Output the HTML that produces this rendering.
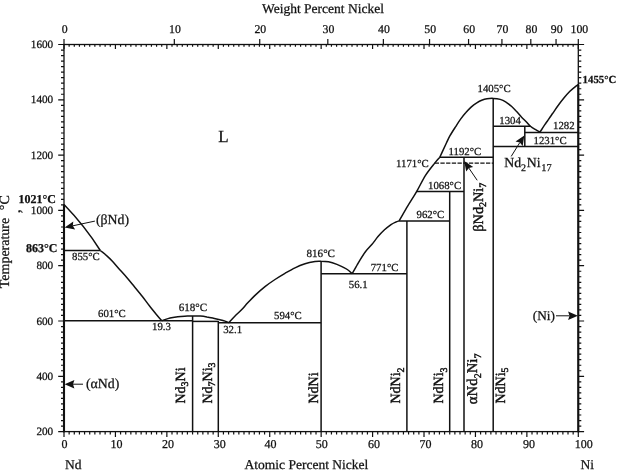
<!DOCTYPE html>
<html><head><meta charset="utf-8"><title>Nd-Ni phase diagram</title>
<style>html,body{margin:0;padding:0;background:#fff}svg{display:block}text{font-family:"Liberation Serif",serif;fill:#111;text-rendering:geometricPrecision;stroke:#111;stroke-width:0.25px}</style>
</head><body>
<svg width="617" height="473" viewBox="0 0 617 473">
<rect width="617" height="473" fill="#fff"/>
<g stroke="#111" fill="none" stroke-width="1.3" stroke-linecap="butt">
<rect x="64.0" y="44.5" width="514.30" height="387.10"/>
<path d="M64.0 204.6V432.2M578.3 84.6V432.2" stroke-width="2.1"/>
</g>
<path d="M64.00 431.6v5.5M64.00 44.5v4.6M69.14 431.6v2.9M69.14 44.5v2.3M74.29 431.6v2.9M74.29 44.5v2.3M79.43 431.6v2.9M79.43 44.5v2.3M84.57 431.6v2.9M84.57 44.5v2.3M89.72 431.6v2.9M89.72 44.5v2.3M94.86 431.6v2.9M94.86 44.5v2.3M100.00 431.6v2.9M100.00 44.5v2.3M105.14 431.6v2.9M105.14 44.5v2.3M110.29 431.6v2.9M110.29 44.5v2.3M115.43 431.6v5.5M115.43 44.5v4.6M120.57 431.6v2.9M120.57 44.5v2.3M125.72 431.6v2.9M125.72 44.5v2.3M130.86 431.6v2.9M130.86 44.5v2.3M136.00 431.6v2.9M136.00 44.5v2.3M141.14 431.6v2.9M141.14 44.5v2.3M146.29 431.6v2.9M146.29 44.5v2.3M151.43 431.6v2.9M151.43 44.5v2.3M156.57 431.6v2.9M156.57 44.5v2.3M161.72 431.6v2.9M161.72 44.5v2.3M166.86 431.6v5.5M166.86 44.5v4.6M172.00 431.6v2.9M172.00 44.5v2.3M177.15 431.6v2.9M177.15 44.5v2.3M182.29 431.6v2.9M182.29 44.5v2.3M187.43 431.6v2.9M187.43 44.5v2.3M192.57 431.6v2.9M192.57 44.5v2.3M197.72 431.6v2.9M197.72 44.5v2.3M202.86 431.6v2.9M202.86 44.5v2.3M208.00 431.6v2.9M208.00 44.5v2.3M213.15 431.6v2.9M213.15 44.5v2.3M218.29 431.6v5.5M218.29 44.5v4.6M223.43 431.6v2.9M223.43 44.5v2.3M228.58 431.6v2.9M228.58 44.5v2.3M233.72 431.6v2.9M233.72 44.5v2.3M238.86 431.6v2.9M238.86 44.5v2.3M244.00 431.6v2.9M244.00 44.5v2.3M249.15 431.6v2.9M249.15 44.5v2.3M254.29 431.6v2.9M254.29 44.5v2.3M259.43 431.6v2.9M259.43 44.5v2.3M264.58 431.6v2.9M264.58 44.5v2.3M269.72 431.6v5.5M269.72 44.5v4.6M274.86 431.6v2.9M274.86 44.5v2.3M280.01 431.6v2.9M280.01 44.5v2.3M285.15 431.6v2.9M285.15 44.5v2.3M290.29 431.6v2.9M290.29 44.5v2.3M295.43 431.6v2.9M295.43 44.5v2.3M300.58 431.6v2.9M300.58 44.5v2.3M305.72 431.6v2.9M305.72 44.5v2.3M310.86 431.6v2.9M310.86 44.5v2.3M316.01 431.6v2.9M316.01 44.5v2.3M321.15 431.6v5.5M321.15 44.5v4.6M326.29 431.6v2.9M326.29 44.5v2.3M331.44 431.6v2.9M331.44 44.5v2.3M336.58 431.6v2.9M336.58 44.5v2.3M341.72 431.6v2.9M341.72 44.5v2.3M346.86 431.6v2.9M346.86 44.5v2.3M352.01 431.6v2.9M352.01 44.5v2.3M357.15 431.6v2.9M357.15 44.5v2.3M362.29 431.6v2.9M362.29 44.5v2.3M367.44 431.6v2.9M367.44 44.5v2.3M372.58 431.6v5.5M372.58 44.5v4.6M377.72 431.6v2.9M377.72 44.5v2.3M382.87 431.6v2.9M382.87 44.5v2.3M388.01 431.6v2.9M388.01 44.5v2.3M393.15 431.6v2.9M393.15 44.5v2.3M398.30 431.6v2.9M398.30 44.5v2.3M403.44 431.6v2.9M403.44 44.5v2.3M408.58 431.6v2.9M408.58 44.5v2.3M413.72 431.6v2.9M413.72 44.5v2.3M418.87 431.6v2.9M418.87 44.5v2.3M424.01 431.6v5.5M424.01 44.5v4.6M429.15 431.6v2.9M429.15 44.5v2.3M434.30 431.6v2.9M434.30 44.5v2.3M439.44 431.6v2.9M439.44 44.5v2.3M444.58 431.6v2.9M444.58 44.5v2.3M449.73 431.6v2.9M449.73 44.5v2.3M454.87 431.6v2.9M454.87 44.5v2.3M460.01 431.6v2.9M460.01 44.5v2.3M465.15 431.6v2.9M465.15 44.5v2.3M470.30 431.6v2.9M470.30 44.5v2.3M475.44 431.6v5.5M475.44 44.5v4.6M480.58 431.6v2.9M480.58 44.5v2.3M485.73 431.6v2.9M485.73 44.5v2.3M490.87 431.6v2.9M490.87 44.5v2.3M496.01 431.6v2.9M496.01 44.5v2.3M501.15 431.6v2.9M501.15 44.5v2.3M506.30 431.6v2.9M506.30 44.5v2.3M511.44 431.6v2.9M511.44 44.5v2.3M516.58 431.6v2.9M516.58 44.5v2.3M521.73 431.6v2.9M521.73 44.5v2.3M526.87 431.6v5.5M526.87 44.5v4.6M532.01 431.6v2.9M532.01 44.5v2.3M537.16 431.6v2.9M537.16 44.5v2.3M542.30 431.6v2.9M542.30 44.5v2.3M547.44 431.6v2.9M547.44 44.5v2.3M552.58 431.6v2.9M552.58 44.5v2.3M557.73 431.6v2.9M557.73 44.5v2.3M562.87 431.6v2.9M562.87 44.5v2.3M568.01 431.6v2.9M568.01 44.5v2.3M573.16 431.6v2.9M573.16 44.5v2.3M578.30 431.6v5.5M578.30 44.5v4.6M64.00 44.5v-5.5M174.32 44.5v-5.5M259.73 44.5v-5.5M327.82 44.5v-5.5M383.37 44.5v-5.5M429.56 44.5v-5.5M468.56 44.5v-5.5M501.93 44.5v-5.5M530.81 44.5v-5.5M556.05 44.5v-5.5M578.30 44.5v-5.5M64.0 431.60h-5.8M578.3 431.60h5.8M64.0 426.07h-3M578.3 426.07h3M64.0 420.54h-3M578.3 420.54h3M64.0 415.01h-3M578.3 415.01h3M64.0 409.48h-3M578.3 409.48h3M64.0 403.95h-3M578.3 403.95h3M64.0 398.42h-3M578.3 398.42h3M64.0 392.89h-3M578.3 392.89h3M64.0 387.36h-3M578.3 387.36h3M64.0 381.83h-3M578.3 381.83h3M64.0 376.30h-5.8M578.3 376.30h5.8M64.0 370.77h-3M578.3 370.77h3M64.0 365.24h-3M578.3 365.24h3M64.0 359.71h-3M578.3 359.71h3M64.0 354.18h-3M578.3 354.18h3M64.0 348.65h-3M578.3 348.65h3M64.0 343.12h-3M578.3 343.12h3M64.0 337.59h-3M578.3 337.59h3M64.0 332.06h-3M578.3 332.06h3M64.0 326.53h-3M578.3 326.53h3M64.0 321.00h-5.8M578.3 321.00h5.8M64.0 315.47h-3M578.3 315.47h3M64.0 309.94h-3M578.3 309.94h3M64.0 304.41h-3M578.3 304.41h3M64.0 298.88h-3M578.3 298.88h3M64.0 293.35h-3M578.3 293.35h3M64.0 287.82h-3M578.3 287.82h3M64.0 282.29h-3M578.3 282.29h3M64.0 276.76h-3M578.3 276.76h3M64.0 271.23h-3M578.3 271.23h3M64.0 265.70h-5.8M578.3 265.70h5.8M64.0 260.17h-3M578.3 260.17h3M64.0 254.64h-3M578.3 254.64h3M64.0 249.11h-3M578.3 249.11h3M64.0 243.58h-3M578.3 243.58h3M64.0 238.05h-3M578.3 238.05h3M64.0 232.52h-3M578.3 232.52h3M64.0 226.99h-3M578.3 226.99h3M64.0 221.46h-3M578.3 221.46h3M64.0 215.93h-3M578.3 215.93h3M64.0 210.40h-5.8M578.3 210.40h5.8M64.0 204.87h-3M578.3 204.87h3M64.0 199.34h-3M578.3 199.34h3M64.0 193.81h-3M578.3 193.81h3M64.0 188.28h-3M578.3 188.28h3M64.0 182.75h-3M578.3 182.75h3M64.0 177.22h-3M578.3 177.22h3M64.0 171.69h-3M578.3 171.69h3M64.0 166.16h-3M578.3 166.16h3M64.0 160.63h-3M578.3 160.63h3M64.0 155.10h-5.8M578.3 155.10h5.8M64.0 149.57h-3M578.3 149.57h3M64.0 144.04h-3M578.3 144.04h3M64.0 138.51h-3M578.3 138.51h3M64.0 132.98h-3M578.3 132.98h3M64.0 127.45h-3M578.3 127.45h3M64.0 121.92h-3M578.3 121.92h3M64.0 116.39h-3M578.3 116.39h3M64.0 110.86h-3M578.3 110.86h3M64.0 105.33h-3M578.3 105.33h3M64.0 99.80h-5.8M578.3 99.80h5.8M64.0 94.27h-3M578.3 94.27h3M64.0 88.74h-3M578.3 88.74h3M64.0 83.21h-3M578.3 83.21h3M64.0 77.68h-3M578.3 77.68h3M64.0 72.15h-3M578.3 72.15h3M64.0 66.62h-3M578.3 66.62h3M64.0 61.09h-3M578.3 61.09h3M64.0 55.56h-3M578.3 55.56h3M64.0 50.03h-3M578.3 50.03h3M64.0 44.50h-5.8M578.3 44.50h5.8" stroke="#111" stroke-width="1.2" fill="none"/>
<g font-size="11.2">
<text x="64.6" y="32.9" text-anchor="middle" font-size="11.8">0</text>
<text x="174.9" y="32.9" text-anchor="middle" font-size="11.8">10</text>
<text x="260.3" y="32.9" text-anchor="middle" font-size="11.8">20</text>
<text x="328.4" y="32.9" text-anchor="middle" font-size="11.8">30</text>
<text x="384.0" y="32.9" text-anchor="middle" font-size="11.8">40</text>
<text x="430.2" y="32.9" text-anchor="middle" font-size="11.8">50</text>
<text x="469.2" y="32.9" text-anchor="middle" font-size="11.8">60</text>
<text x="502.5" y="32.9" text-anchor="middle" font-size="11.8">70</text>
<text x="531.4" y="32.9" text-anchor="middle" font-size="11.8">80</text>
<text x="556.7" y="32.9" text-anchor="middle" font-size="11.8">90</text>
<text x="579.4" y="32.9" text-anchor="middle" font-size="11.8">100</text>
<text x="64.6" y="448" text-anchor="middle" font-size="12">0</text>
<text x="116.4" y="448" text-anchor="middle" font-size="12">10</text>
<text x="168.1" y="448" text-anchor="middle" font-size="12">20</text>
<text x="219.8" y="448" text-anchor="middle" font-size="12">30</text>
<text x="270.6" y="448" text-anchor="middle" font-size="12">40</text>
<text x="321.8" y="448" text-anchor="middle" font-size="12">50</text>
<text x="374.1" y="448" text-anchor="middle" font-size="12">60</text>
<text x="425.5" y="448" text-anchor="middle" font-size="12">70</text>
<text x="476.9" y="448" text-anchor="middle" font-size="12">80</text>
<text x="528.9" y="448" text-anchor="middle" font-size="12">90</text>
<text x="583.7" y="448" text-anchor="middle" font-size="12">100</text>
<text x="53.2" y="435.1" text-anchor="end">200</text>
<text x="53.2" y="379.8" text-anchor="end">400</text>
<text x="53.2" y="324.5" text-anchor="end">600</text>
<text x="53.2" y="269.2" text-anchor="end">800</text>
<text x="53.2" y="213.9" text-anchor="end">1000</text>
<text x="53.2" y="158.6" text-anchor="end">1200</text>
<text x="53.2" y="103.3" text-anchor="end">1400</text>
<text x="53.2" y="48.0" text-anchor="end">1600</text>
</g>
<g font-size="13.5">
<text x="323" y="12.5" text-anchor="middle">Weight Percent Nickel</text>
<text x="244.6" y="468.8">Atomic Percent Nickel</text>
<text x="65" y="468.8">Nd</text>
<text x="580.4" y="468.8">Ni</text>
<text transform="translate(9.3,288.3) rotate(-90)" font-size="14">Temperature</text>
<text transform="translate(9.3,210.2) rotate(-90)" font-size="14">°C</text>
<text transform="translate(20.3,213.3) rotate(-90)" font-size="16">,</text>
</g>
<g stroke="#111" fill="none" stroke-width="1.5" stroke-linejoin="round">
<path d="M64.0 204.6 Q84.4 225.6 100.3 250.5"/>
<path d="M100.3 250.5C102.4 252.2 104.5 253.7 106.5 255.5C108.5 257.3 110.2 258.8 112.4 261.2C114.6 263.6 117.3 266.9 119.8 269.7C122.3 272.5 124.7 275.1 127.2 278.0C129.7 280.9 132.1 283.9 134.6 286.9C137.1 289.9 139.5 292.9 142.0 296.0C144.5 299.1 146.9 302.7 149.4 305.8C151.9 308.9 154.7 312.4 156.8 314.9C158.9 317.4 160.1 318.8 161.8 320.7"/>
<path d="M161.8 320.7C163.9 320.0 165.9 319.2 168.0 318.6C170.1 318.0 172.3 317.7 174.5 317.3C176.7 316.9 178.8 316.6 180.9 316.4C183.1 316.2 185.5 316.0 187.4 315.9C189.3 315.8 190.4 316.0 192.6 316.0C194.7 316.1 198.0 316.0 200.4 316.1C202.8 316.2 204.7 316.5 206.9 316.9C209.1 317.2 211.2 317.7 213.4 318.2C215.6 318.7 218.0 319.3 219.9 319.8C221.8 320.3 223.5 320.6 225.0 321.1C226.5 321.6 227.5 322.1 228.8 322.7"/>
<path d="M228.8 322.7C230.8 320.5 232.7 318.3 234.8 316.2C236.9 314.1 239.1 312.3 241.3 310.0C243.5 307.7 245.7 305.0 248.0 302.6C250.3 300.2 252.2 298.1 255.0 295.4C257.8 292.7 261.7 289.2 265.0 286.6C268.3 284.0 271.7 281.7 275.0 279.5C278.3 277.3 281.7 275.2 285.0 273.3C288.3 271.4 291.7 269.4 295.0 267.8C298.3 266.2 301.7 264.8 305.0 263.7C308.3 262.6 312.3 261.9 315.0 261.5C317.7 261.1 318.9 261.2 321.1 261.3C323.4 261.3 325.9 261.3 328.5 261.8C331.1 262.3 334.1 263.3 336.9 264.4C339.7 265.5 343.3 267.2 345.4 268.4C347.5 269.5 348.5 270.4 349.6 271.3C350.7 272.2 351.3 272.9 352.2 273.7"/>
<path d="M352.2 273.7C353.8 270.8 355.8 267.3 357.1 265.0C358.4 262.7 358.7 262.1 360.1 259.9C361.5 257.6 363.7 254.1 365.6 251.5C367.6 248.9 369.7 247.1 371.8 244.6C373.9 242.1 375.9 239.1 378.0 236.6C380.1 234.1 382.3 231.8 384.5 229.8C386.7 227.8 389.2 225.9 391.0 224.6C392.8 223.3 394.1 222.8 395.5 222.2C396.9 221.6 397.9 221.3 399.1 220.9"/>
<path d="M399.1 220.9C402.0 215.9 404.9 210.8 407.8 205.9C410.7 201.0 413.7 196.7 416.6 191.6C419.6 186.5 422.5 180.0 425.5 175.3C428.5 170.6 432.3 166.1 434.7 163.1C437.1 160.1 438.1 159.2 439.8 157.3"/>
<path d="M439.8 157.3C442.0 152.5 444.7 146.6 446.4 143.0C448.1 139.4 448.5 138.3 450.0 135.7C451.5 133.1 453.5 130.0 455.3 127.2C457.1 124.4 458.8 121.5 460.6 119.1C462.4 116.6 464.1 114.5 465.9 112.5C467.6 110.5 469.4 108.7 471.1 107.1C472.9 105.5 474.6 104.2 476.4 103.1C478.2 102.0 479.9 101.0 481.7 100.3C483.5 99.6 485.1 99.1 487.0 98.8C488.9 98.5 491.0 98.3 493.2 98.4C495.4 98.5 498.1 98.8 500.2 99.4C502.3 100.0 503.8 100.7 505.6 101.8C507.4 102.9 509.1 104.3 510.9 105.8C512.6 107.3 514.4 109.2 516.1 111.0C517.9 112.8 519.6 115.0 521.4 116.9C523.2 118.8 525.2 120.6 526.7 122.2C528.2 123.8 529.0 125.1 530.4 126.3C531.8 127.5 533.6 128.5 535.2 129.4C536.8 130.3 537.4 130.9 540.1 132.0"/>
<path d="M540.1 132.0C541.7 129.5 543.6 126.4 545.0 124.4C546.4 122.4 547.0 121.6 548.2 119.8C549.4 118.0 550.7 116.2 552.4 113.8C554.1 111.4 556.3 108.0 558.3 105.3C560.2 102.6 562.2 100.1 564.1 97.8C566.0 95.5 568.0 93.2 569.9 91.3C571.8 89.4 574.3 87.4 575.7 86.3C577.1 85.2 577.4 85.2 578.3 84.6"/>
<path d="M64.0 250.5H100.3" />
<path d="M64.0 320.7H192.6" />
<path d="M192.6 321.4H218.3"/>
<path d="M218.3 322.7H321.1" />
<path d="M321.1 273.7H406.9" />
<path d="M399.1 220.9H449.7" />
<path d="M416.6 191.6H464.0" />
<path d="M434.7 163.1H493.2" stroke-dasharray="4.3 1.4" stroke-width="1.25"/>
<path d="M439.8 157.3H493.2" />
<path d="M493.2 126.3H530.4" />
<path d="M524.8 132.4H578.3" />
<path d="M493.2 146.5H578.3" />
<path d="M192.6 316.0V431.6"/>
<path d="M218.3 321.0V431.6"/>
<path d="M321.1 261.3V431.6"/>
<path d="M406.9 220.9V431.6"/>
<path d="M449.7 191.6V431.6"/>
<path d="M464.0 157.3V431.6"/>
<path d="M493.2 98.4V431.6"/>
<path d="M524.8 126.3V146.5"/>
</g>
<g font-size="10.8">
<text x="477.5" y="92.3" text-anchor="start" >1405°C</text>
<text x="499.3" y="124" text-anchor="start" >1304</text>
<text x="553" y="128.6" text-anchor="start" >1282</text>
<text x="533.5" y="144" text-anchor="start" >1231°C</text>
<text x="448.5" y="154.5" text-anchor="start" >1192°C</text>
<text x="396" y="167" text-anchor="start" >1171°C</text>
<text x="428" y="189" text-anchor="start" >1068°C</text>
<text x="416.5" y="218" text-anchor="start" >962°C</text>
<text x="306.5" y="257" text-anchor="start" font-size="11.1">816°C</text>
<text x="370.7" y="270.5" text-anchor="start" >771°C</text>
<text x="348.8" y="287.5" text-anchor="start" >56.1</text>
<text x="274" y="319" text-anchor="start" >594°C</text>
<text x="178.7" y="311.2" text-anchor="start" font-size="11.1">618°C</text>
<text x="98" y="317" text-anchor="start" >601°C</text>
<text x="152" y="329.5" text-anchor="start" >19.3</text>
<text x="223.2" y="332.7" text-anchor="start" >32.1</text>
<text x="72" y="260" text-anchor="start" >855°C</text>
</g>
<g font-size="12" font-weight="bold">
<text x="18.4" y="202.8" text-anchor="start" >1021°C</text>
<text x="25.9" y="252.3" text-anchor="start" >863°C</text>
<text x="582.6" y="82.8" text-anchor="start" font-size="10.8">1455°C</text>
</g>
<text x="218.2" y="141.6" font-size="17">L</text>
<g font-size="13.8">
<text x="96" y="223.5" text-anchor="start" >(βNd)</text>
<text x="86" y="387.6" text-anchor="start" >(αNd)</text>
<text x="532.8" y="319.5" text-anchor="start" font-size="13.3">(Ni)</text>
<text x="504.2" y="167" text-anchor="start" >Nd<tspan dy="4.3" font-size="10">2</tspan><tspan dy="-4.3" dx="0.6">Ni</tspan><tspan dy="4" dx="0.8" font-size="10.4">17</tspan></text>
<text transform="translate(184.5,403.5) rotate(-90)" font-size="14" style="stroke-width:0.45px">Nd<tspan dy="3.5" font-size="10">3</tspan><tspan dy="-3.5">Ni</tspan></text>
<text transform="translate(211.5,403.5) rotate(-90)" font-size="14" style="stroke-width:0.45px">Nd<tspan dy="3.5" font-size="10">7</tspan><tspan dy="-3.5">Ni</tspan><tspan dy="3.5" font-size="10">3</tspan></text>
<text transform="translate(318,403.5) rotate(-90)" font-size="14" style="stroke-width:0.45px">NdNi</text>
<text transform="translate(400,403.5) rotate(-90)" font-size="14" style="stroke-width:0.45px">NdNi<tspan dy="3.5" font-size="10">2</tspan></text>
<text transform="translate(443.0,403.5) rotate(-90)" font-size="14" style="stroke-width:0.45px">NdNi<tspan dy="3.5" font-size="10">3</tspan></text>
<text transform="translate(477.2,404.2) rotate(-90)" font-size="14.8" style="stroke-width:0.45px">αNd<tspan dy="3.5" font-size="10">2</tspan><tspan dy="-3.5">Ni</tspan><tspan dy="3.5" font-size="10">7</tspan></text>
<text transform="translate(504.6,403.5) rotate(-90)" font-size="14" style="stroke-width:0.45px">NdNi<tspan dy="3.5" font-size="10">5</tspan></text>
<text transform="translate(482.7,231.7) rotate(-90)" font-size="14.3" style="stroke-width:0.45px">βNd<tspan dy="3.5" font-size="10">2</tspan><tspan dy="-3.5">Ni</tspan><tspan dy="3.5" font-size="10">7</tspan></text>
</g>
<path d="M94.9 221.1L72.8 225.8" stroke="#111" stroke-width="1.0" fill="none"/>
<path d="M64.6 227.5L73.3 221.4L72.8 225.8L75.1 229.6Z" fill="#111"/>
<path d="M83.0 384.2L73.0 384.2" stroke="#111" stroke-width="1.0" fill="none"/>
<path d="M64.6 384.2L74.4 380.0L73.0 384.2L74.4 388.4Z" fill="#111"/>
<path d="M556.0 315.8L569.5 315.8" stroke="#111" stroke-width="1.0" fill="none"/>
<path d="M577.9 315.8L568.1 320.0L569.5 315.8L568.1 311.6Z" fill="#111"/>
<path d="M477.2 180.3L468.9 168.1" stroke="#111" stroke-width="1.0" fill="none"/>
<path d="M464.2 161.1L473.2 166.9L468.9 168.1L466.2 171.6Z" fill="#111"/>
<path d="M511.2 156.4L519.8 142.6" stroke="#111" stroke-width="1.0" fill="none"/>
<path d="M524.3 135.5L522.7 146.0L519.8 142.6L515.5 141.6Z" fill="#111"/>
</svg>
</body></html>
